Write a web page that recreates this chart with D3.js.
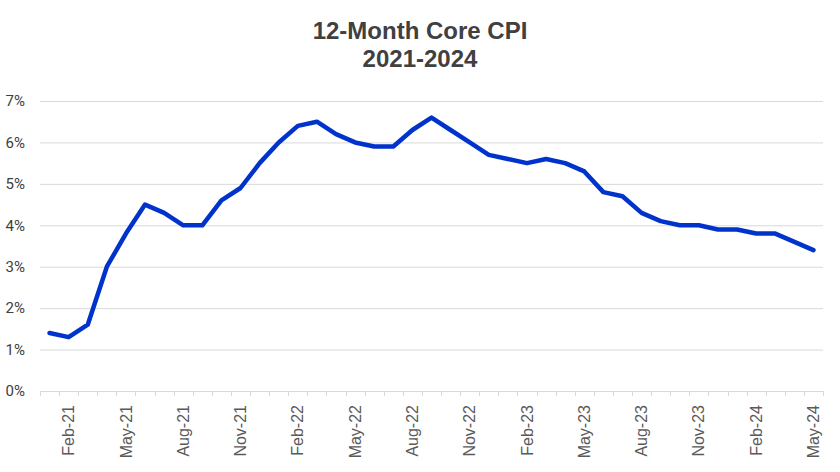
<!DOCTYPE html>
<html>
<head>
<meta charset="utf-8">
<script src="https://cdn.jsdelivr.net/npm/d3@7"></script>
<style>
  body { margin: 0; background: #ffffff; }
</style>
</head>
<body>
<div id="chart"></div>
<script>
// Monthly 12-month core CPI, Jan-21 .. May-24
const months = [
  "Jan-21", "Feb-21", "Mar-21", "Apr-21", "May-21", "Jun-21", "Jul-21", "Aug-21", "Sep-21", "Oct-21", "Nov-21", "Dec-21",
  "Jan-22", "Feb-22", "Mar-22", "Apr-22", "May-22", "Jun-22", "Jul-22", "Aug-22", "Sep-22", "Oct-22", "Nov-22", "Dec-22",
  "Jan-23", "Feb-23", "Mar-23", "Apr-23", "May-23", "Jun-23", "Jul-23", "Aug-23", "Sep-23", "Oct-23", "Nov-23", "Dec-23",
  "Jan-24", "Feb-24", "Mar-24", "Apr-24", "May-24"
];
const coreCpi = [
  1.4, 1.3, 1.6, 3.0, 3.8, 4.5, 4.3, 4.0, 4.0, 4.6, 4.9, 5.5,
  6.0, 6.4, 6.5, 6.2, 6.0, 5.9, 5.9, 6.3, 6.6, 6.3, 6.0, 5.7,
  5.6, 5.5, 5.6, 5.5, 5.3, 4.8, 4.7, 4.3, 4.1, 4.0, 4.0, 3.9,
  3.9, 3.8, 3.8, 3.6, 3.4
];
const yTicks = [0, 1, 2, 3, 4, 5, 6, 7];
const titleLines = ["12-Month Core CPI", "2021-2024"];

const width = 840, height = 472;
const margin = { top: 101, right: 17, bottom: 81, left: 40 };

const svg = d3.select("#chart").append("svg")
  .attr("width", width)
  .attr("height", height);

const x = d3.scaleBand()
  .domain(months)
  .range([margin.left, width - margin.right])
  .padding(0);

const y = d3.scaleLinear()
  .domain([0, 7])
  .range([height - margin.bottom, margin.top]);

// title
svg.append("g").selectAll("text")
  .data(titleLines)
  .join("text")
  .attr("x", width / 2)
  .attr("y", (d, i) => 39 + i * 28)
  .attr("text-anchor", "middle")
  .style("font-family", "'Liberation Sans', Arial, sans-serif")
  .style("font-weight", "bold")
  .style("font-size", "24px")
  .style("fill", "#404040")
  .text(d => d);

// gridlines
svg.append("g").selectAll("line")
  .data(yTicks.filter(d => d > 0))
  .join("line")
  .attr("x1", margin.left)
  .attr("x2", width - margin.right)
  .attr("y1", d => y(d) + 0.5)
  .attr("y2", d => y(d) + 0.5)
  .attr("stroke", "#d9d9d9")
  .attr("stroke-width", 1);

// y labels
svg.append("g").selectAll("text")
  .data(yTicks)
  .join("text")
  .attr("x", 25)
  .attr("y", d => y(d))
  .attr("dy", "0.35em")
  .attr("text-anchor", "end")
  .style("font-family", "Roboto, 'Liberation Sans', sans-serif")
  .style("font-size", "15px")
  .style("fill", "#404040")
  .text(d => d + "%");

// x axis line and tick marks at band boundaries
const xAxisG = svg.append("g");
xAxisG.append("line")
  .attr("x1", margin.left)
  .attr("x2", width - margin.right)
  .attr("y1", y(0) + 0.5)
  .attr("y2", y(0) + 0.5)
  .attr("stroke", "#d9d9d9");
const boundaries = months.map(m => x(m)).concat([x(months[months.length - 1]) + x.bandwidth()]);
xAxisG.selectAll("line.tick")
  .data(boundaries)
  .join("line")
  .attr("class", "tick")
  .attr("x1", d => Math.round(d) + 0.5)
  .attr("x2", d => Math.round(d) + 0.5)
  .attr("y1", y(0))
  .attr("y2", y(0) + 5)
  .attr("stroke", "#d9d9d9");

// x labels every 3rd month starting Feb-21
xAxisG.selectAll("text")
  .data(months.filter((m, i) => i % 3 === 1))
  .join("text")
  .attr("transform", d => `translate(${x(d) + x.bandwidth() / 2},${y(0) + 14}) rotate(-90)`)
  .attr("dy", "0.35em")
  .attr("text-anchor", "end")
  .style("font-family", "'Liberation Sans', Arial, sans-serif")
  .style("font-size", "16px")
  .style("fill", "#595959")
  .text(d => d);

// line
const line = d3.line()
  .x((d, i) => x(months[i]) + x.bandwidth() / 2)
  .y(d => y(d));

svg.append("path")
  .datum(coreCpi)
  .attr("d", line)
  .attr("fill", "none")
  .attr("stroke", "#0033cc")
  .attr("stroke-width", 4.5)
  .attr("stroke-linejoin", "round")
  .attr("stroke-linecap", "round");
</script>
</body>
</html>
